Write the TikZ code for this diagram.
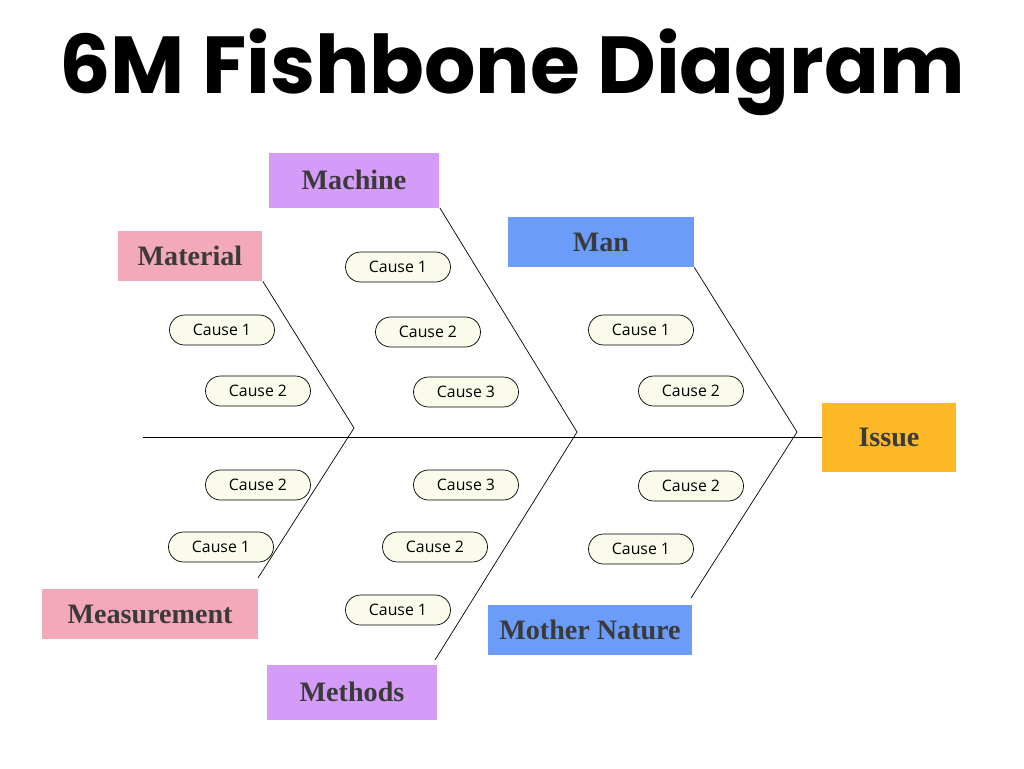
\documentclass[tikz,border=0pt]{standalone}
\usepackage{fontspec}
\newfontfamily\titlefont{Poppins}
\newfontfamily\headfont{Liberation Serif}
\newfontfamily\causefont{Open Sans}
\definecolor{pinkbox}{HTML}{F4A9BA}
\definecolor{purplebox}{HTML}{D59BF8}
\definecolor{bluebox}{HTML}{6B9CF9}
\definecolor{issuebox}{HTML}{FDB827}
\definecolor{causefill}{HTML}{FAFBEA}
\definecolor{headtext}{HTML}{3A3A3A}
\tikzset{
    line/.style={
        thin, black
    },
    head/.style={
        minimum height=1cm, text=headtext,
        font=\headfont\bfseries\fontsize{16}{16}\selectfont
    },
    cause/.style={
        draw, rounded corners=3mm, fill=causefill, line width=0.4pt,
        minimum width=2.1cm, minimum height=0.6cm,
        font=\causefont\fontsize{9}{9}\selectfont
    }
}
\begin{document}
\begin{tikzpicture}[x=0.02cm, y=-0.02cm]
    \useasboundingbox (0, 0) rectangle (1024, 768);
    % Title:
    \node (title) at (512, 72) {\titlefont\bfseries\fontsize{46}{46}\selectfont 6M Fishbone Diagram};
    % Spine and head:
    \node [head, fill=issuebox, minimum width=2.68cm, minimum height=1.38cm] (issue) at (889, 437) {Issue};
    \coordinate (tail) at (143, 437);
    \coordinate (j1) at (354, 428);
    \coordinate (j2) at (577, 432);
    \coordinate (j3) at (797, 432);
    \draw [line] (tail) -- (issue.west);
    % Category boxes:
    \node [head, fill=pinkbox, minimum width=2.9cm] (material) at (190, 256) {Material};
    \node [head, fill=purplebox, minimum width=3.42cm, minimum height=1.1cm] (machine) at (354, 180) {Machine};
    \node [head, fill=bluebox, minimum width=3.72cm] (man) at (601, 242) {Man};
    \node [head, fill=pinkbox, minimum width=4.34cm] (measurement) at (150, 614) {Measurement};
    \node [head, fill=purplebox, minimum width=3.42cm, minimum height=1.1cm] (methods) at (352, 692) {Methods};
    \node [head, fill=bluebox, minimum width=4.1cm] (nature) at (590, 630) {Mother Nature};
    % Bones:
    \draw [line] (material.south east) -- (j1) -- (258, 578);
    \draw [line] (machine.south east) -- (j2) -- (435, 660);
    \draw [line] (man.south east) -- (j3) -- (691, 598);
    % Causes:
    \node [cause] (ma1) at (222, 330) {Cause 1};
    \node [cause] (ma2) at (258, 391) {Cause 2};
    \node [cause] (mc1) at (398, 267) {Cause 1};
    \node [cause] (mc2) at (428, 332) {Cause 2};
    \node [cause] (mc3) at (466, 392) {Cause 3};
    \node [cause] (mn1) at (641, 330) {Cause 1};
    \node [cause] (mn2) at (691, 391) {Cause 2};
    \node [cause] (me2) at (258, 485) {Cause 2};
    \node [cause] (me1) at (221, 547) {Cause 1};
    \node [cause] (mt3) at (466, 485) {Cause 3};
    \node [cause] (mt2) at (435, 547) {Cause 2};
    \node [cause] (mt1) at (398, 610) {Cause 1};
    \node [cause] (nt2) at (691, 486) {Cause 2};
    \node [cause] (nt1) at (641, 549) {Cause 1};
\end{tikzpicture}
\end{document}
